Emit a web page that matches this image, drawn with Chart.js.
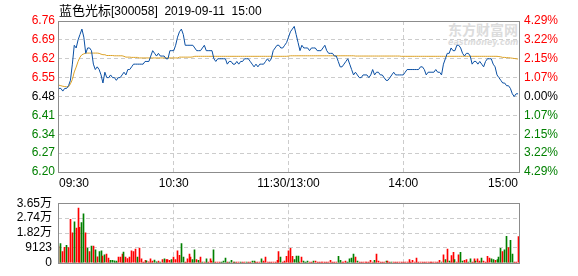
<!DOCTYPE html>
<html><head><meta charset="utf-8">
<script src="https://cdn.jsdelivr.net/npm/chart.js@4/dist/chart.umd.min.js"></script>
<style>
html,body{margin:0;padding:0;background:#fff;width:578px;height:276px;overflow:hidden;}
#wrap{position:relative;width:578px;height:276px;}
#title{position:absolute;left:59px;top:0;font:12px 'Liberation Sans','Noto Sans CJK SC',sans-serif;line-height:16px;color:#000;white-space:pre;}
#title .cn{font:13px 'Noto Sans CJK SC';}
#wm{position:absolute;left:448px;top:21px;font:bold 14px 'Noto Sans CJK SC';color:#dcdcdc;line-height:16px;}
#wm2{position:absolute;left:448px;top:38px;font:italic bold 8px 'DejaVu Sans';color:#dcdcdc;line-height:9px;}
canvas{position:absolute;left:0;}
#pc{top:0;} #vc{top:190px;}
</style></head><body>
<div id="wrap">
<div id="wm">东方财富网</div><div id="wm2">eastmoney.com</div>
<canvas id="pc" width="578" height="190"></canvas>
<canvas id="vc" width="578" height="86"></canvas>
<div id="title"><span class="cn">蓝色光标</span>[300058]  2019-09-11  15:00</div>
</div>
<script>
const timeLabels = ['09:30','10:30','11:30/13:00','14:00','15:00'];
const timeTickIdx = [0,60,120,180,240];
const priceTicks = [6.20,6.27,6.34,6.41,6.48,6.55,6.62,6.69,6.76];
const priceTickLabels = ['6.20','6.27','6.34','6.41','6.48','6.55','6.62','6.69','6.76'];
const pctTickLabels = ['4.29%','3.22%','2.15%','1.07%','0.00%','1.07%','2.15%','3.22%','4.29%'];
const volTicks = [0,9123,18246,27369,36492];
const volTickLabels = ['0','9123','1.82万','2.74万','3.65万'];

const price = [
6.51,6.51,6.50,6.51,6.51,6.52,6.54,6.60,6.67,6.66,
6.69,6.71,6.73,6.70,6.64,6.66,6.66,6.65,6.60,6.58,
6.59,6.58,6.56,6.53,6.57,6.55,6.55,6.56,6.55,6.55,
6.54,6.55,6.55,6.56,6.57,6.56,6.58,6.58,6.59,6.60,
6.60,6.60,6.60,6.60,6.60,6.61,6.61,6.61,6.63,6.65,
6.64,6.63,6.64,6.63,6.63,6.63,6.62,6.62,6.65,6.65,
6.65,6.67,6.70,6.72,6.73,6.71,6.67,6.67,6.67,6.67,
6.67,6.66,6.65,6.65,6.65,6.66,6.67,6.65,6.65,6.65,
6.65,6.62,6.61,6.62,6.62,6.62,6.62,6.62,6.60,6.61,
6.61,6.60,6.60,6.61,6.60,6.61,6.61,6.62,6.62,6.62,
6.61,6.60,6.59,6.60,6.59,6.60,6.60,6.60,6.61,6.62,
6.61,6.62,6.65,6.66,6.67,6.67,6.66,6.66,6.67,6.68,
6.70,6.72,6.73,6.74,6.71,6.68,6.65,6.67,6.66,6.66,
6.66,6.65,6.66,6.66,6.66,6.65,6.65,6.65,6.66,6.67,
6.65,6.64,6.64,6.64,6.63,6.63,6.61,6.59,6.59,6.60,
6.61,6.62,6.60,6.58,6.56,6.57,6.56,6.55,6.55,6.56,
6.56,6.56,6.55,6.56,6.58,6.56,6.57,6.57,6.56,6.56,
6.55,6.54,6.54,6.55,6.56,6.57,6.56,6.56,6.56,6.56,
6.56,6.57,6.58,6.58,6.58,6.58,6.58,6.58,6.58,6.59,
6.59,6.58,6.56,6.57,6.57,6.57,6.57,6.58,6.57,6.57,
6.56,6.60,6.62,6.64,6.64,6.66,6.65,6.65,6.67,6.67,
6.66,6.64,6.63,6.64,6.64,6.63,6.60,6.61,6.61,6.60,
6.61,6.60,6.59,6.61,6.62,6.62,6.62,6.60,6.59,6.56,
6.55,6.54,6.53,6.53,6.52,6.52,6.51,6.49,6.48,6.49,6.49];

const avgPrice = [
6.522,6.520,6.518,6.517,6.516,6.516,6.527,6.543,6.571,6.589,
6.610,6.626,6.635,6.638,6.641,6.641,6.641,6.641,6.641,6.641,
6.641,6.640,6.637,6.635,6.635,6.632,6.632,6.632,6.632,6.631,
6.631,6.631,6.631,6.631,6.629,6.626,6.626,6.626,6.625,6.625,
6.625,6.625,6.623,6.623,6.623,6.623,6.623,6.623,6.623,6.623,
6.623,6.623,6.623,6.623,6.623,6.623,6.623,6.623,6.623,6.623,
6.623,6.623,6.623,6.626,6.626,6.626,6.626,6.626,6.626,6.626,
6.627,6.629,6.629,6.629,6.629,6.629,6.629,6.629,6.629,6.629,
6.629,6.629,6.629,6.629,6.629,6.629,6.629,6.629,6.629,6.629,
6.629,6.629,6.629,6.629,6.629,6.629,6.629,6.629,6.629,6.629,
6.629,6.629,6.629,6.629,6.629,6.629,6.629,6.629,6.629,6.629,
6.629,6.629,6.629,6.629,6.629,6.629,6.629,6.629,6.629,6.629,
6.630,6.631,6.631,6.631,6.631,6.631,6.631,6.631,6.631,6.631,
6.631,6.631,6.631,6.631,6.631,6.631,6.631,6.631,6.631,6.631,
6.631,6.631,6.631,6.631,6.631,6.631,6.631,6.631,6.631,6.631,
6.631,6.631,6.631,6.631,6.631,6.630,6.630,6.630,6.630,6.630,
6.630,6.630,6.630,6.630,6.630,6.630,6.630,6.630,6.630,6.630,
6.630,6.630,6.630,6.630,6.630,6.630,6.630,6.630,6.630,6.629,
6.629,6.629,6.629,6.629,6.629,6.629,6.629,6.629,6.629,6.629,
6.629,6.629,6.629,6.629,6.629,6.629,6.629,6.629,6.629,6.629,
6.629,6.629,6.629,6.629,6.629,6.629,6.629,6.629,6.629,6.629,
6.629,6.629,6.629,6.629,6.629,6.629,6.629,6.629,6.629,6.629,
6.629,6.629,6.629,6.629,6.629,6.629,6.629,6.629,6.629,6.629,
6.628,6.627,6.625,6.625,6.624,6.624,6.623,6.622,6.621,6.620,6.619];

const volume = [
10168,11808,6888,9512,10660,9348,26568,18368,25092,21320,
33456,21648,24600,30012,18368,9020,6888,10168,10168,7872,
3608,6888,7380,4100,4920,5412,2952,1476,1476,1148,
984,3444,3444,5412,6560,3444,2624,3444,7380,6888,
8364,3444,9020,2460,492,1476,1148,656,2460,984,
1640,656,984,492,1968,2460,1968,1968,1476,1968,
3444,1968,7380,4592,11808,3444,492,2460,5412,3444,
1968,7872,1968,1476,3444,492,492,2460,492,2460,
984,7872,492,492,492,492,984,2952,492,492,
1476,492,492,492,492,492,492,492,492,492,
492,984,984,492,492,492,2460,984,3444,492,
492,492,492,492,1476,6888,3444,492,984,3936,
7380,8856,3936,1968,4100,4100,492,3444,984,492,
984,492,492,984,984,492,492,492,492,492,
492,492,1476,492,492,492,3936,1476,492,492,
984,492,2460,2952,5412,3444,984,492,492,492,
492,492,492,1476,492,1476,5412,984,492,492,
492,984,984,492,492,492,492,492,492,492,
492,492,492,1968,492,1476,492,2952,492,492,
492,492,492,492,492,492,492,492,492,1476,
492,4920,1968,8364,984,4428,6396,1968,492,4920,
6396,984,1476,1968,492,2460,492,2460,984,2460,
984,2952,984,492,3936,2952,2460,1968,1476,1968,
3444,8856,6888,7872,16236,9348,13776,5412,492,492,16072];

const volUp = [
1,0,1,1,0,1,1,1,0,1,
1,1,0,0,1,0,1,0,1,0,
1,0,0,1,0,1,1,0,0,0,
0,1,1,1,0,1,1,1,1,1,
1,0,1,1,1,1,0,1,1,1,
0,0,1,0,1,0,1,1,1,0,
1,1,1,1,0,0,1,1,1,1,
0,0,1,0,1,0,1,0,1,1,
1,0,1,1,1,0,0,0,1,0,
0,1,0,1,1,0,1,1,0,1,
1,0,0,1,1,1,0,1,1,1,
1,1,1,1,1,1,0,1,1,1,
1,1,1,0,0,0,1,1,0,0,
0,1,1,0,1,1,1,1,1,1,
1,1,1,1,1,1,0,0,1,1,
1,0,0,0,0,1,0,1,1,1,
1,1,1,1,1,0,1,1,1,1,
1,0,1,1,0,1,1,1,1,1,
1,1,1,1,1,1,1,1,1,1,
1,1,1,1,1,1,1,1,1,1,
0,1,0,1,0,1,1,0,1,1,
0,0,1,1,0,0,1,1,0,1,
1,0,1,1,1,1,0,0,1,0,
0,0,1,0,0,1,0,0,1,1,1];

const FONT = "'Liberation Sans','Noto Sans CJK SC',sans-serif";
const UP = '#ff0000', DOWN = '#008000', FLAT = '#000000';
const GRID = '#cccccc';
const DASH = [4,3];

const frame = {id:'frame', afterDraw(c){
  const a=c.chartArea, x=c.ctx; x.save(); x.strokeStyle='#8c8c8c'; x.lineWidth=1; x.setLineDash([]);
  x.strokeRect(Math.round(a.left)+0.5, Math.round(a.top)+0.5, Math.round(a.right-a.left), Math.round(a.bottom-a.top));
  x.restore();
}};
// snap 1px bars to whole pixel columns so they render crisp
const snapBars = {id:'snapBars', beforeDatasetsDraw(c){
  c.getDatasetMeta(0).data.forEach(el=>{ el.x = Math.floor(el.x)+0.5; });
}};
const xGrid = ctx => (ctx.tick && (ctx.tick.value===timeTickIdx[0] || ctx.tick.value===timeTickIdx[timeTickIdx.length-1])) ? 'rgba(0,0,0,0)' : GRID;
const sideColor = ctx => ctx.index < 4 ? DOWN : (ctx.index === 4 ? FLAT : UP);

new Chart(document.getElementById('pc'), {
  type:'line',
  data:{datasets:[
    {data: price.map((v,i)=>({x:i,y:v})), borderColor:'#0a4fa3', borderWidth:1, pointRadius:0, tension:0},
    {data: avgPrice.map((v,i)=>({x:i,y:v})), borderColor:'#dca125', borderWidth:1, pointRadius:0, tension:0}
  ]},
  options:{
    responsive:false, animation:false, devicePixelRatio:1,
    layout:{padding:{top:21,left:0,right:0,bottom:0}},
    plugins:{legend:{display:false}, tooltip:{enabled:false}},
    scales:{
      x:{type:'linear', min:-0.5, max:240.5,
        afterBuildTicks:s=>{s.ticks=timeTickIdx.map(v=>({value:v}));},
        afterFit:s=>{s.height=18;},
        grid:{color:xGrid, drawTicks:false, lineWidth:1},
        border:{display:false, dash:DASH},
        ticks:{align:'inner', padding:4, color:'#000', font:{family:FONT,size:12}, maxRotation:0, autoSkip:false,
          callback:(v,i)=>timeLabels[i]}},
      y:{position:'left', min:priceTicks[0], max:priceTicks[priceTicks.length-1],
        afterBuildTicks:s=>{s.ticks=priceTicks.map(v=>({value:v}));},
        afterFit:s=>{s.width=58;},
        grid:{color:GRID, drawTicks:false, lineWidth:1},
        border:{display:false, dash:DASH},
        ticks:{padding:3, autoSkip:false, color:sideColor, font:{family:FONT,size:12}, callback:(v,i)=>priceTickLabels[i]}},
      y2:{position:'right', min:priceTicks[0], max:priceTicks[priceTicks.length-1],
        afterBuildTicks:s=>{s.ticks=priceTicks.map(v=>({value:v}));},
        afterFit:s=>{s.width=59;},
        grid:{display:false, drawTicks:false},
        border:{display:false},
        ticks:{padding:5, autoSkip:false, color:sideColor, font:{family:FONT,size:12}, callback:(v,i)=>pctTickLabels[i]}}
    }
  },
  plugins:[frame]
});

new Chart(document.getElementById('vc'), {
  type:'bar',
  data:{datasets:[
    {data: volume.map((v,i)=>({x:i,y:v})), backgroundColor: volUp.map(u=>u?UP:DOWN), barThickness:1, borderWidth:0}
  ]},
  options:{
    responsive:false, animation:false, devicePixelRatio:1,
    layout:{padding:{top:6,left:0,right:59,bottom:6}},
    plugins:{legend:{display:false}, tooltip:{enabled:false}},
    scales:{
      x:{type:'linear', min:-0.5, max:240.5, offset:false,
        afterBuildTicks:s=>{s.ticks=timeTickIdx.map(v=>({value:v}));},
        afterFit:s=>{s.height=0;},
        grid:{color:xGrid, drawTicks:false, lineWidth:1, offset:false},
        border:{display:false, dash:DASH},
        ticks:{display:false}},
      y:{position:'left', min:volTicks[0], max:volTicks[volTicks.length-1],
        afterBuildTicks:s=>{s.ticks=volTicks.map(v=>({value:v}));},
        afterFit:s=>{s.width=58;},
        grid:{color:GRID, drawTicks:false, lineWidth:1},
        border:{display:false, dash:DASH},
        ticks:{padding:6, autoSkip:false, color:'#000', font:{family:FONT,size:12}, callback:(v,i)=>volTickLabels[i]}}
    }
  },
  plugins:[frame, snapBars]
});
</script>
</body></html>
